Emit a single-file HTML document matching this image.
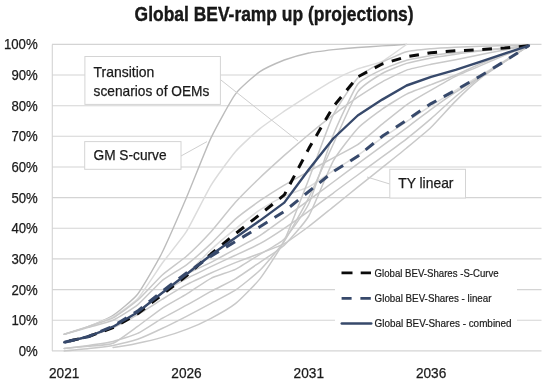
<!DOCTYPE html>
<html><head><meta charset="utf-8"><title>Global BEV-ramp up (projections)</title>
<style>
html,body{margin:0;padding:0;background:#fff;}
body{width:550px;height:384px;overflow:hidden;font-family:"Liberation Sans",sans-serif;}
svg{display:block}
text{font-family:"Liberation Sans",sans-serif;fill:#1a1a1a}
.g{fill:none;stroke:#c9c9c9;stroke-width:1.5;stroke-linecap:round;stroke-linejoin:round}
.gl{fill:none;stroke:#dcdcdc;stroke-width:1.5;stroke-linecap:round;stroke-linejoin:round}
.gd{fill:none;stroke:#bcbcbc;stroke-width:1.4;stroke-linecap:round;stroke-linejoin:round}
.grid{stroke:#d4d4d4;stroke-width:1.1}
.ax{stroke:#1a1a1a;stroke-width:0.25px}
.lg{stroke:#1a1a1a;stroke-width:0.2px}
.box{fill:#fff;stroke:#d4d4d4;stroke-width:1}
.lead{stroke:#cfcfcf;stroke-width:1;fill:none}
</style></head><body>
<svg width="550" height="384" viewBox="0 0 550 384">
<rect width="550" height="384" fill="#fff"/>
<text x="274.1" y="20.8" text-anchor="middle" font-size="20.4" font-weight="bold" fill="#000" stroke="#000" stroke-width="0.35" textLength="279" lengthAdjust="spacingAndGlyphs">Global BEV-ramp up (projections)</text>
<line class="grid" x1="52" x2="541.5" y1="350.9" y2="350.9"/>
<line class="grid" x1="52" x2="541.5" y1="320.2" y2="320.2"/>
<line class="grid" x1="52" x2="541.5" y1="289.6" y2="289.6"/>
<line class="grid" x1="52" x2="541.5" y1="258.9" y2="258.9"/>
<line class="grid" x1="52" x2="541.5" y1="228.3" y2="228.3"/>
<line class="grid" x1="52" x2="541.5" y1="197.6" y2="197.6"/>
<line class="grid" x1="52" x2="541.5" y1="167.0" y2="167.0"/>
<line class="grid" x1="52" x2="541.5" y1="136.3" y2="136.3"/>
<line class="grid" x1="52" x2="541.5" y1="105.7" y2="105.7"/>
<line class="grid" x1="52" x2="541.5" y1="75.0" y2="75.0"/>
<line class="grid" x1="52" x2="541.5" y1="44.4" y2="44.4"/>
<line class="grid" x1="52.3" x2="52.3" y1="44.4" y2="350.9"/>
<text class="ax" x="37.7" y="355.9" text-anchor="end" font-size="14.4" textLength="19.0" lengthAdjust="spacingAndGlyphs">0%</text>
<text class="ax" x="37.7" y="325.2" text-anchor="end" font-size="14.4" textLength="26.3" lengthAdjust="spacingAndGlyphs">10%</text>
<text class="ax" x="37.7" y="294.6" text-anchor="end" font-size="14.4" textLength="26.3" lengthAdjust="spacingAndGlyphs">20%</text>
<text class="ax" x="37.7" y="263.9" text-anchor="end" font-size="14.4" textLength="26.3" lengthAdjust="spacingAndGlyphs">30%</text>
<text class="ax" x="37.7" y="233.3" text-anchor="end" font-size="14.4" textLength="26.3" lengthAdjust="spacingAndGlyphs">40%</text>
<text class="ax" x="37.7" y="202.6" text-anchor="end" font-size="14.4" textLength="26.3" lengthAdjust="spacingAndGlyphs">50%</text>
<text class="ax" x="37.7" y="172.0" text-anchor="end" font-size="14.4" textLength="26.3" lengthAdjust="spacingAndGlyphs">60%</text>
<text class="ax" x="37.7" y="141.3" text-anchor="end" font-size="14.4" textLength="26.3" lengthAdjust="spacingAndGlyphs">70%</text>
<text class="ax" x="37.7" y="110.7" text-anchor="end" font-size="14.4" textLength="26.3" lengthAdjust="spacingAndGlyphs">80%</text>
<text class="ax" x="37.7" y="80.0" text-anchor="end" font-size="14.4" textLength="26.3" lengthAdjust="spacingAndGlyphs">90%</text>
<text class="ax" x="37.7" y="49.4" text-anchor="end" font-size="14.4" textLength="33.8" lengthAdjust="spacingAndGlyphs">100%</text>
<text class="ax" x="64.2" y="377.7" text-anchor="middle" font-size="14.4" textLength="30.4" lengthAdjust="spacingAndGlyphs">2021</text>
<text class="ax" x="186.5" y="377.7" text-anchor="middle" font-size="14.4" textLength="30.4" lengthAdjust="spacingAndGlyphs">2026</text>
<text class="ax" x="308.8" y="377.7" text-anchor="middle" font-size="14.4" textLength="30.4" lengthAdjust="spacingAndGlyphs">2031</text>
<text class="ax" x="431.1" y="377.7" text-anchor="middle" font-size="14.4" textLength="30.4" lengthAdjust="spacingAndGlyphs">2036</text>
<path class="gd" d="M64.2,334.3 C66.2,333.7 84.6,328.0 88.7,326.4 C92.7,324.8 109.0,318.0 113.1,315.3 C117.2,312.7 133.5,299.4 137.6,294.2 C141.7,289.0 158.0,260.9 162.0,252.8 C166.1,244.8 182.4,207.2 186.5,197.6 C190.6,188.1 206.9,146.5 211.0,137.9 C215.0,129.2 231.3,99.6 235.4,94.1 C239.5,88.5 255.8,74.5 259.9,71.7 C264.0,68.8 280.3,61.6 284.3,60.0 C288.4,58.5 304.7,53.9 308.8,53.0 C312.9,52.1 329.2,50.1 333.3,49.6 C337.3,49.2 353.6,47.8 357.7,47.5 C361.8,47.2 378.1,46.2 382.2,45.9 C386.3,45.7 404.6,44.5 406.6,44.4"/>
<path class="gl" d="M64.2,334.3 C66.2,333.7 84.6,327.9 88.7,326.4 C92.7,324.9 109.0,318.9 113.1,316.6 C117.2,314.3 133.5,303.2 137.6,298.8 C141.7,294.4 158.0,269.2 162.0,263.5 C166.1,257.9 182.4,237.9 186.5,231.4 C190.6,224.9 206.9,192.0 211.0,185.4 C215.0,178.7 231.3,156.4 235.4,151.7 C239.5,146.9 255.8,132.1 259.9,128.7 C264.0,125.3 280.3,114.0 284.3,111.2 C288.4,108.4 304.7,97.9 308.8,95.3 C312.9,92.7 329.2,82.5 333.3,80.3 C337.3,78.1 353.6,70.5 357.7,68.9 C361.8,67.3 378.1,63.3 382.2,61.3 C386.3,59.2 404.6,45.8 406.6,44.4"/>
<path class="g" d="M64.2,334.3 C66.2,333.7 84.6,327.8 88.7,326.4 C92.7,325.0 109.0,320.0 113.1,317.8 C117.2,315.6 133.5,303.9 137.6,300.3 C141.7,296.8 158.0,278.9 162.0,275.2 C166.1,271.5 182.4,259.8 186.5,256.2 C190.6,252.6 206.9,236.2 211.0,231.7 C215.0,227.2 231.3,206.7 235.4,202.2 C239.5,197.8 255.8,181.6 259.9,177.7 C264.0,173.8 280.3,159.0 284.3,155.4 C288.4,151.8 304.7,137.9 308.8,134.5 C312.9,131.1 329.2,118.0 333.3,114.9 C337.3,111.8 353.6,99.9 357.7,97.1 C361.8,94.4 378.1,84.0 382.2,81.8 C386.3,79.5 402.6,71.6 406.6,70.1 C410.7,68.7 427.0,65.2 431.1,64.3 C435.2,63.5 451.5,60.5 455.6,59.7 C459.6,58.9 475.9,55.6 480.0,54.8 C484.1,54.0 500.4,50.7 504.5,49.9 C508.6,49.2 526.9,46.0 528.9,45.6"/>
<path class="g" d="M64.2,334.3 C66.2,333.8 84.6,328.5 88.7,327.3 C92.7,326.1 109.0,322.1 113.1,320.2 C117.2,318.4 133.5,308.2 137.6,304.9 C141.7,301.6 158.0,284.1 162.0,280.7 C166.1,277.4 182.4,267.9 186.5,264.8 C190.6,261.7 206.9,247.4 211.0,243.6 C215.0,239.8 231.3,222.7 235.4,219.1 C239.5,215.5 255.8,203.6 259.9,200.7 C264.0,197.9 280.3,187.5 284.3,185.1 C288.4,182.6 304.7,173.6 308.8,171.3 C312.9,169.0 329.2,160.0 333.3,157.8 C337.3,155.6 353.6,147.4 357.7,144.6 C361.8,141.8 378.1,127.4 382.2,124.1 C386.3,120.8 402.6,107.6 406.6,104.8 C410.7,101.9 427.0,92.4 431.1,90.1 C435.2,87.7 451.5,78.3 455.6,76.3 C459.6,74.3 475.9,67.6 480.0,65.9 C484.1,64.1 500.4,57.1 504.5,55.4 C508.6,53.7 526.9,46.4 528.9,45.6"/>
<path class="gl" d="M64.2,342.3 C66.2,341.8 84.6,337.8 88.7,336.5 C92.7,335.2 109.0,328.7 113.1,326.7 C117.2,324.7 133.5,315.1 137.6,312.3 C141.7,309.5 158.0,296.1 162.0,293.0 C166.1,289.8 182.4,277.9 186.5,274.3 C190.6,270.7 206.9,253.5 211.0,249.8 C215.0,246.0 231.3,232.2 235.4,228.9 C239.5,225.6 255.8,212.6 259.9,209.9 C264.0,207.2 280.3,198.0 284.3,196.1 C288.4,194.2 304.7,189.0 308.8,186.9 C312.9,184.8 329.2,173.3 333.3,170.7 C337.3,168.0 353.6,158.1 357.7,155.4 C361.8,152.6 378.1,140.7 382.2,137.9 C386.3,135.1 402.6,124.3 406.6,121.6 C410.7,119.0 427.0,108.3 431.1,105.7 C435.2,103.1 451.5,92.9 455.6,90.4 C459.6,87.9 475.9,78.1 480.0,75.7 C484.1,73.2 500.4,63.5 504.5,61.0 C508.6,58.4 526.9,46.9 528.9,45.6"/>
<path class="g" d="M64.2,342.3 C66.2,341.8 84.6,337.8 88.7,336.5 C92.7,335.2 109.0,328.7 113.1,326.7 C117.2,324.7 133.5,315.1 137.6,312.3 C141.7,309.5 158.0,296.1 162.0,293.0 C166.1,289.8 182.4,276.8 186.5,274.3 C190.6,271.7 206.9,264.4 211.0,262.3 C215.0,260.2 231.3,251.4 235.4,249.1 C239.5,246.9 255.8,238.2 259.9,235.7 C264.0,233.1 280.3,221.1 284.3,218.2 C288.4,215.2 304.7,203.1 308.8,200.1 C312.9,197.1 329.2,185.0 333.3,182.0 C337.3,179.0 353.6,166.9 357.7,163.9 C361.8,160.9 378.1,148.9 382.2,145.9 C386.3,142.8 402.6,130.8 406.6,127.8 C410.7,124.7 427.0,112.3 431.1,109.4 C435.2,106.4 451.5,94.9 455.6,92.2 C459.6,89.5 475.9,79.5 480.0,76.9 C484.1,74.3 500.4,63.9 504.5,61.3 C508.6,58.7 526.9,46.9 528.9,45.6"/>
<path class="g" d="M64.2,342.3 C66.2,341.8 84.6,337.8 88.7,336.5 C92.7,335.2 109.0,328.7 113.1,326.7 C117.2,324.7 133.5,315.1 137.6,312.3 C141.7,309.5 158.0,295.8 162.0,293.0 C166.1,290.2 182.4,280.8 186.5,278.6 C190.6,276.4 206.9,268.6 211.0,266.6 C215.0,264.7 231.3,257.2 235.4,255.3 C239.5,253.4 255.8,245.9 259.9,243.6 C264.0,241.4 280.3,231.0 284.3,228.3 C288.4,225.6 304.7,214.1 308.8,211.1 C312.9,208.2 329.2,196.1 333.3,193.1 C337.3,190.0 353.6,178.0 357.7,175.0 C361.8,172.0 378.1,159.9 382.2,156.9 C386.3,153.9 402.6,142.0 406.6,138.8 C410.7,135.6 427.0,122.1 431.1,118.6 C435.2,115.0 451.5,99.9 455.6,96.5 C459.6,93.1 475.9,80.4 480.0,77.5 C484.1,74.6 500.4,64.2 504.5,61.6 C508.6,58.9 526.9,47.0 528.9,45.6"/>
<path class="g" d="M64.2,342.3 C66.2,341.8 84.6,337.7 88.7,336.5 C92.7,335.3 109.0,329.7 113.1,327.9 C117.2,326.1 133.5,317.1 137.6,314.7 C141.7,312.4 158.0,301.9 162.0,299.4 C166.1,296.9 182.4,286.9 186.5,284.7 C190.6,282.5 206.9,274.9 211.0,273.0 C215.0,271.2 231.3,264.3 235.4,262.6 C239.5,261.0 255.8,255.0 259.9,253.4 C264.0,251.8 280.3,245.9 284.3,243.6 C288.4,241.4 304.7,229.5 308.8,226.5 C312.9,223.4 329.2,210.1 333.3,206.8 C337.3,203.6 353.6,190.5 357.7,187.2 C361.8,184.0 378.1,170.9 382.2,167.6 C386.3,164.3 402.6,151.4 406.6,148.0 C410.7,144.6 427.0,131.1 431.1,127.2 C435.2,123.2 451.5,105.1 455.6,101.1 C459.6,97.1 475.9,82.0 480.0,78.7 C484.1,75.5 500.4,64.6 504.5,61.9 C508.6,59.1 526.9,47.0 528.9,45.6"/>
<path class="g" d="M64.2,348.4 C66.2,348.3 84.6,346.7 88.7,346.3 C92.7,345.9 109.0,344.9 113.1,343.2 C117.2,341.6 133.5,329.3 137.6,326.4 C141.7,323.5 158.0,311.0 162.0,308.3 C166.1,305.6 182.4,296.7 186.5,294.2 C190.6,291.7 206.9,280.3 211.0,278.3 C215.0,276.2 231.3,271.4 235.4,269.4 C239.5,267.4 255.8,256.9 259.9,254.4 C264.0,251.8 280.3,243.2 284.3,239.0 C288.4,234.8 304.7,212.5 308.8,203.8 C312.9,195.1 329.2,144.8 333.3,134.8 C337.3,124.9 353.6,89.7 357.7,84.2 C361.8,78.8 378.1,71.5 382.2,69.5 C386.3,67.5 402.6,61.5 406.6,60.3 C410.7,59.2 427.0,56.1 431.1,55.4 C435.2,54.8 451.5,53.1 455.6,52.7 C459.6,52.3 475.9,50.9 480.0,50.5 C484.1,50.1 500.4,48.5 504.5,48.1 C508.6,47.7 526.9,45.8 528.9,45.6"/>
<path class="g" d="M64.2,348.4 C66.2,348.2 84.6,346.0 88.7,345.4 C92.7,344.8 109.0,342.4 113.1,341.4 C117.2,340.4 133.5,335.3 137.6,333.4 C141.7,331.5 158.0,320.8 162.0,318.4 C166.1,316.1 182.4,307.5 186.5,305.2 C190.6,303.0 206.9,293.6 211.0,291.4 C215.0,289.2 231.3,281.3 235.4,278.9 C239.5,276.4 255.8,265.1 259.9,262.3 C264.0,259.5 280.3,249.0 284.3,245.2 C288.4,241.3 304.7,223.1 308.8,216.0 C312.9,209.0 329.2,168.2 333.3,160.9 C337.3,153.6 353.6,132.7 357.7,128.4 C361.8,124.1 378.1,111.9 382.2,109.1 C386.3,106.2 402.6,96.1 406.6,94.1 C410.7,92.0 427.0,86.1 431.1,84.6 C435.2,83.0 451.5,76.8 455.6,75.0 C459.6,73.3 475.9,65.8 480.0,64.0 C484.1,62.3 500.4,55.7 504.5,54.2 C508.6,52.7 526.9,46.3 528.9,45.6"/>
<path class="g" d="M64.2,350.9 C66.2,350.7 84.6,348.9 88.7,348.4 C92.7,348.0 109.0,346.1 113.1,345.4 C117.2,344.6 133.5,340.7 137.6,339.3 C141.7,337.8 158.0,330.4 162.0,328.5 C166.1,326.6 182.4,318.4 186.5,316.3 C190.6,314.2 206.9,305.6 211.0,303.4 C215.0,301.2 231.3,293.0 235.4,290.2 C239.5,287.5 255.8,274.4 259.9,270.3 C264.0,266.2 280.3,247.2 284.3,241.2 C288.4,235.1 304.7,205.7 308.8,197.6 C312.9,189.6 329.2,152.8 333.3,144.0 C337.3,135.2 353.6,97.8 357.7,91.9 C361.8,86.0 378.1,75.9 382.2,73.5 C386.3,71.1 402.6,64.7 406.6,63.4 C410.7,62.1 427.0,58.7 431.1,57.9 C435.2,57.1 451.5,54.8 455.6,54.2 C459.6,53.6 475.9,51.6 480.0,51.1 C484.1,50.7 500.4,48.8 504.5,48.4 C508.6,47.9 526.9,45.9 528.9,45.6"/>
<path class="g" d="M113.1,347.5 C115.2,347.2 133.5,344.1 137.6,343.2 C141.7,342.4 158.0,338.6 162.0,337.4 C166.1,336.3 182.4,331.0 186.5,329.4 C190.6,327.9 206.9,320.6 211.0,318.4 C215.0,316.3 231.3,307.0 235.4,303.7 C239.5,300.4 255.8,284.1 259.9,278.9 C264.0,273.6 280.3,248.9 284.3,240.6 C288.4,232.3 304.7,189.7 308.8,179.3 C312.9,168.8 329.2,123.3 333.3,114.9 C337.3,106.5 353.6,82.5 357.7,78.1 C361.8,73.7 378.1,64.4 382.2,62.2 C386.3,60.0 402.6,52.9 406.6,51.8 C410.7,50.6 427.0,49.1 431.1,48.7 C435.2,48.3 451.5,47.4 455.6,47.2 C459.6,47.0 475.9,46.4 480.0,46.2 C484.1,46.1 500.4,45.7 504.5,45.6 C508.6,45.6 526.9,45.6 528.9,45.6"/>
<path class="lead" d="M220.4,79.6 L298,141"/>
<path class="lead" d="M181,156 L207,141.6"/>
<path class="lead" d="M389.8,184 L367,177"/>
<path d="M64.2,342.3 L88.7,336.5 L113.1,327.6 L137.6,313.8 L162.0,294.8 L186.5,275.8 L211.0,254.0 L235.4,233.8 L259.9,214.5 L284.3,194.9 L308.8,148.6 L333.3,106.6 L357.7,76.9 L382.2,64.0 L406.6,56.7 L431.1,52.7 L455.6,50.8 L480.0,49.6 L504.5,48.1 L528.9,45.6" fill="none" stroke="#0a0a0a" stroke-width="3.0" stroke-dasharray="9.7 8.63" stroke-dashoffset="-5.3" stroke-linejoin="round"/>
<path d="M64.2,342.3 L88.7,336.5 L113.1,326.1 L137.6,311.1 L162.0,291.4 L186.5,273.0 L211.0,256.2 L235.4,241.5 L259.9,226.8 L284.3,211.4 L308.8,191.5 L333.3,171.6 L357.7,156.3 L382.2,136.3 L406.6,120.1 L431.1,103.6 L455.6,90.1 L480.0,76.3 L504.5,61.3 L528.9,45.6" fill="none" stroke="#37496b" stroke-width="3.0" stroke-dasharray="10.5 8.44" stroke-dashoffset="-0.3" stroke-linejoin="round"/>
<path d="M64.2,342.3 L88.7,336.5 L113.1,326.7 L137.6,312.3 L162.0,293.0 L186.5,274.3 L211.0,255.0 L235.4,237.8 L259.9,220.6 L284.3,202.6 L308.8,169.5 L333.3,138.5 L357.7,115.5 L382.2,99.6 L406.6,85.5 L431.1,76.9 L455.6,69.8 L480.0,61.9 L504.5,53.6 L528.9,45.6" fill="none" stroke="#37496b" stroke-width="2.4" stroke-linecap="round" stroke-linejoin="round"/>
<rect class="box" x="84.9" y="56.5" width="135.5" height="47.9"/>
<text class="ax" x="93.6" y="76.9" font-size="14.5" textLength="60.8" lengthAdjust="spacingAndGlyphs">Transition</text>
<text class="ax" x="93.6" y="96.3" font-size="14.5" textLength="115.8" lengthAdjust="spacingAndGlyphs">scenarios of OEMs</text>
<rect class="box" x="84.7" y="141.6" width="96.3" height="27.7"/>
<text class="ax" x="93.5" y="160.2" font-size="14.5" textLength="73" lengthAdjust="spacingAndGlyphs">GM S-curve</text>
<rect class="box" x="389.8" y="169.3" width="75.7" height="28.7"/>
<text class="ax" x="398.2" y="188.2" font-size="14.5" textLength="55.3" lengthAdjust="spacingAndGlyphs">TY linear</text>
<rect x="335" y="260" width="182" height="76" fill="#fff"/>
<path d="M341.5,272.8 H352.5 M360.7,272.8 H371" stroke="#0a0a0a" stroke-width="2.7" fill="none"/>
<path d="M341.6,298.4 H351.6 M360.4,298.4 H370.8" stroke="#37496b" stroke-width="2.6" fill="none"/>
<path d="M341.8,323.5 H371.2" stroke="#37496b" stroke-width="2.6" fill="none" stroke-linecap="round"/>
<text class="lg" x="374.6" y="276.5" font-size="10.9" textLength="124.1" lengthAdjust="spacingAndGlyphs">Global BEV-Shares -S-Curve</text>
<text class="lg" x="374.6" y="302.3" font-size="10.9" textLength="116.9" lengthAdjust="spacingAndGlyphs">Global BEV-Shares - linear</text>
<text class="lg" x="374.6" y="327.4" font-size="10.9" textLength="137" lengthAdjust="spacingAndGlyphs">Global BEV-Shares - combined</text>
</svg>
</body></html>
